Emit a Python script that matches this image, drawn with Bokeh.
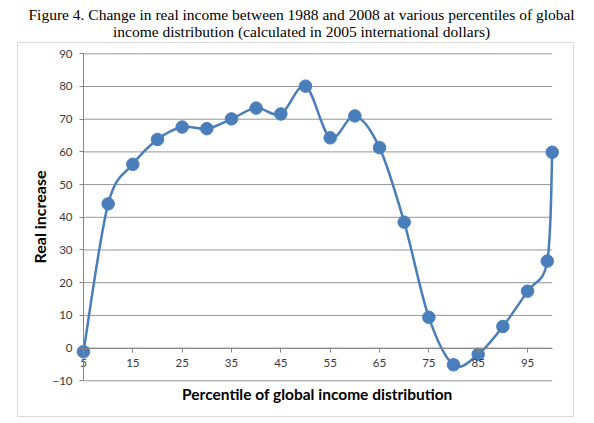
import numpy as np
from bokeh.plotting import figure
from bokeh.models import Range1d, FixedTicker, Label, BoxAnnotation
from bokeh.embed import file_html
from bokeh.resources import INLINE

# percentiles of global income distribution and real income change (%)
percentile = [5, 10, 15, 20, 25, 30, 35, 40, 45, 50, 55, 60, 65, 70, 75, 80, 85, 90, 95, 99, 100]
real_increase = [-1.1, 44.1, 56.2, 63.8, 67.6, 67.1, 70.1, 73.4, 71.6, 80.1, 64.3, 71.0,
                 61.3, 38.5, 9.4, -5.1, -1.9, 6.6, 17.4, 26.6, 59.9]

x_ticks = [5, 15, 25, 35, 45, 55, 65, 75, 85, 95]
y_ticks = [-10, 0, 10, 20, 30, 40, 50, 60, 70, 80, 90]
x_min, x_max = 5, 100

title_1 = "Figure 4. Change in real income between 1988 and 2008 at various percentiles of global"
title_2 = "income distribution (calculated in 2005 international dollars)"
x_title = "Percentile of global income distribution"
y_title = "Real increase"

blue = "#4a7ebb"
grid = "#969696"

# the frame covers the whole canvas; axes sit at fixed data positions inside it
p = figure(width=594, height=423, output_backend="svg", toolbar_location=None,
           x_range=Range1d(-11.82, 108.57), y_range=Range1d(-23.06, 106.3),
           min_border=0)
p.outline_line_color = None
p.background_fill_color = "white"
p.border_fill_color = "white"
p.xgrid.grid_line_color = None
p.ygrid.grid_line_color = None

# chart area border
p.add_layout(BoxAnnotation(left=-8.38, right=104.32, top=93.46, bottom=-20.92,
                           fill_alpha=0, line_color="#868686", line_width=1, level="underlay"))

# horizontal gridlines only across the plot area
p.segment(x0=[x_min] * len(y_ticks), x1=[x_max] * len(y_ticks), y0=y_ticks, y1=y_ticks,
          line_color=grid, line_width=1)

# smoothed line like Excel: cubic bezier through the points (Catmull-Rom control points)
px = np.array(percentile, dtype=float)
py = np.array(real_increase, dtype=float)
prev_x = np.concatenate([[px[0]], px[:-1]])
prev_y = np.concatenate([[py[0]], py[:-1]])
next_x = np.concatenate([px[1:], [px[-1]]])
next_y = np.concatenate([py[1:], [py[-1]]])
tx = (next_x - prev_x) / 6.0
ty = (next_y - prev_y) / 6.0
p.bezier(x0=px[:-1], y0=py[:-1], x1=px[1:], y1=py[1:],
         cx0=px[:-1] + tx[:-1], cy0=py[:-1] + ty[:-1],
         cx1=px[1:] - tx[1:], cy1=py[1:] - ty[1:],
         line_color=blue, line_width=2.5)
p.scatter(percentile, real_increase, size=12.5, color=blue)

# axes
p.xaxis.fixed_location = 0
p.yaxis.fixed_location = x_min
p.xaxis.bounds = (x_min, x_max)
p.yaxis.bounds = (y_ticks[0], y_ticks[-1])
p.xaxis.ticker = FixedTicker(ticks=x_ticks)
p.yaxis.ticker = FixedTicker(ticks=y_ticks)
for ax in (p.xaxis, p.yaxis):
    ax.axis_line_color = "#868686"
    ax.major_tick_line_color = "#868686"
    ax.major_tick_in = 0
    ax.major_tick_out = 4
    ax.minor_tick_line_color = None
    ax.major_label_text_font = "Lato"
    ax.major_label_text_font_size = "11.5px"
    ax.major_label_text_color = "#3a3a3a"
p.xaxis.major_label_standoff = 7
p.yaxis.major_label_standoff = 7
p.yaxis.axis_label = y_title
p.yaxis.axis_label_text_font = "Lato"
p.yaxis.axis_label_text_font_style = "bold"
p.yaxis.axis_label_text_font_size = "16px"
p.yaxis.axis_label_text_color = "black"
p.yaxis.axis_label_standoff = 0

# texts
p.add_layout(Label(x=52.4, y=-14.0, text=x_title, text_align="center", text_baseline="middle",
                   text_font="Lato", text_font_style="bold", text_font_size="15.5px", text_color="black"))
p.add_layout(Label(x=49.2, y=101.9, text=title_1, text_align="center", text_baseline="middle",
                   text_font="Liberation Serif", text_font_size="15.5px", text_color="black"))
p.add_layout(Label(x=49.2, y=96.7, text=title_2, text_align="center", text_baseline="middle",
                   text_font="Liberation Serif", text_font_size="15.5px", text_color="black"))

open("out.html", "w").write(file_html(p, INLINE))
